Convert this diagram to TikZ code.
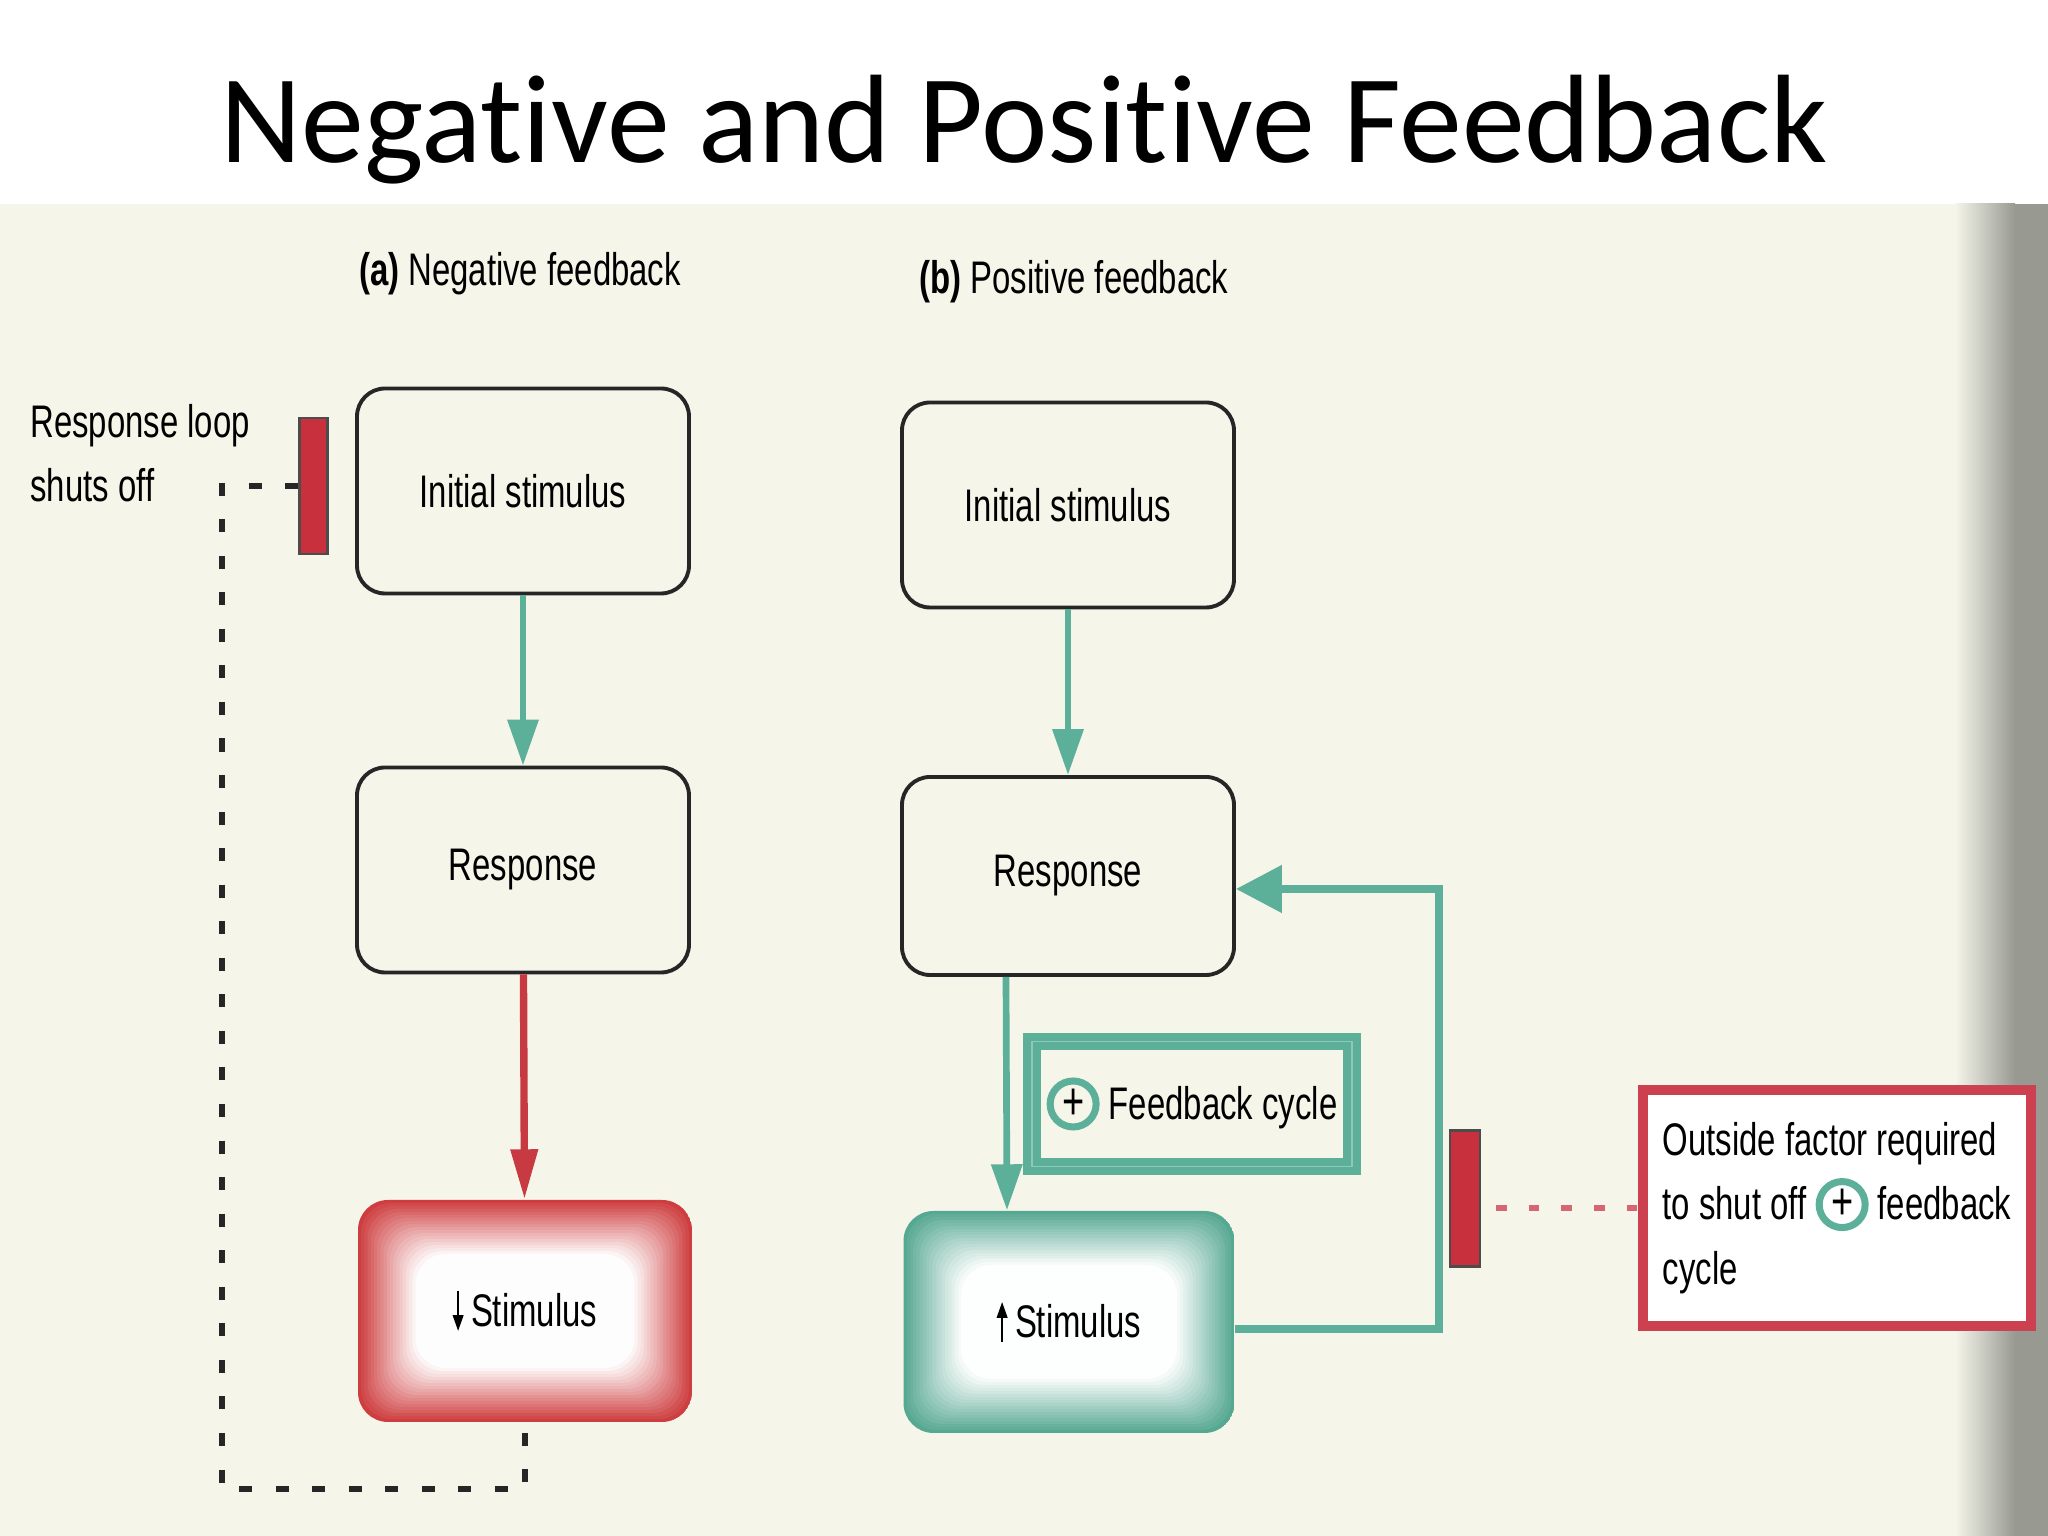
\documentclass[tikz,border=0pt]{standalone}
\usepackage{fontspec}
\setmainfont{Liberation Sans}
\newfontfamily\titlefont[Ligatures=NoCommon]{Carlito}
\newfontfamily\diagfont[FakeStretch=0.72]{Liberation Sans}
\usetikzlibrary{arrows.meta}
\definecolor{paper}{RGB}{245,245,234}
\definecolor{foldgray}{RGB}{152,154,146}
\definecolor{fbteal}{RGB}{92,176,154}
\definecolor{glowteal}{RGB}{86,168,146}
\definecolor{glowred}{RGB}{206,62,64}
\definecolor{barred}{RGB}{200,48,62}
\definecolor{outred}{RGB}{204,64,80}
\definecolor{arrred}{RGB}{200,58,66}
\newcommand{\dfont}{\diagfont\fontsize{13}{18.3}\selectfont}
\newcommand{\plusring}{\tikz[baseline=(pr.base)]\node[circle,draw=fbteal,line width=2pt,inner sep=0pt,minimum size=0.46cm,font=\fontsize{15}{15}\selectfont] (pr) {+};}
\newcommand{\uparr}{\tikz[baseline=0pt]\draw[line width=0.6pt,-{Triangle[length=4.5pt,width=3pt]}] (0,-0.04) -- (0,0.36);}
\newcommand{\dnarr}{\tikz[baseline=0pt]\draw[line width=0.6pt,-{Triangle[length=4.5pt,width=3pt]}] (0,0.36) -- (0,-0.04);}
\tikzset{
  box/.style={draw=black!85, line width=1.1pt, rounded corners=0.28cm, minimum width=3.32cm, minimum height=2.05cm, font=\dfont},
  glowbox/.style={rounded corners=0.3cm, minimum width=3.34cm, minimum height=2.22cm, font=\dfont,
    path picture={\foreach \k [evaluate=\k as \p using int(100-5.5*\k)] in {0,...,18}
      \fill[#1!\p!white, rounded corners=0.3cm] ([shift={(0.032*\k,0.03*\k)}]path picture bounding box.south west) rectangle ([shift={(-0.032*\k,-0.03*\k)}]path picture bounding box.north east);}},
  bar/.style={fill=barred, draw=black!70, line width=0.6pt, minimum width=0.28cm, minimum height=1.36cm, inner sep=0pt},
  tealarrow/.style={draw=fbteal, line width=1.9pt, -{Triangle[length=0.46cm,width=0.3cm]}},
  redarrow/.style={draw=arrred, line width=2.1pt, -{Triangle[length=0.5cm,width=0.26cm]}},
  loopline/.style={draw=fbteal, line width=2.3pt, -{Triangle[length=0.46cm,width=0.46cm]}},
  shutdash/.style={draw=black!85, line width=1.8pt, dash pattern=on 3.7pt off 6.7pt},
  outdash/.style={draw=outred!80, line width=1.8pt, dash pattern=on 3pt off 6.3pt}
}
\begin{document}
\begin{tikzpicture}
  \useasboundingbox (0,0) rectangle (20.48,15.36);
  % page and photo
  \fill[white] (0,0) rectangle (20.48,15.36);
  \fill[paper] (0,0) rectangle (20.48,13.32);
  \shade[left color=paper, right color=foldgray] (19.55,0) rectangle (20.15,13.32);
  \fill[foldgray] (20.15,0) rectangle (20.48,13.32);

  \node[font=\titlefont\fontsize{35.8}{40}\selectfont, anchor=base] (title) at (10.24,13.73) {Negative and Positive Feedback};

  % (a) negative feedback
  \node[font=\dfont] (headA) at (5.2,12.62) {{\bfseries (a)} Negative feedback};
  \node[box] (initA) at (5.23,10.45) {Initial stimulus};
  \node[box] (respA) at (5.23,6.66) {Response};
  \node[glowbox=glowred] (stimA) at (5.25,2.25) {\dnarr\,Stimulus};
  \node[bar] (barA) at (3.135,10.50) {};
  \node[font=\dfont, align=left, anchor=north west] (shutA) at (0.18,11.44) {Response loop\\shuts off};
  \coordinate (loopA) at (2.22,0.47);
  \draw[tealarrow] (initA) -- (respA);
  \draw[redarrow] (respA) -- (stimA);
  \draw[shutdash] (barA.west) -| (loopA) -| (stimA.south);

  % (b) positive feedback
  \node[font=\dfont] (headB) at (10.74,12.54) {{\bfseries (b)} Positive feedback};
  \node[box] (initB) at (10.68,10.31) {Initial stimulus};
  \node[box, minimum height=1.98cm] (respB) at (10.68,6.60) {Response};
  \node[glowbox=glowteal, minimum width=3.31cm] (stimB) at (10.69,2.14) {\uparr\,Stimulus};
  \node[draw=fbteal, line width=2.2pt, double=fbteal!70, double distance=0.5pt, minimum width=3.2cm, minimum height=1.25cm, font=\dfont] (cycleB) at (11.92,4.32) {\plusring\ Feedback cycle};
  \coordinate (loopB) at (14.39,0);
  \draw[tealarrow] (initB) -- (respB);
  \draw[tealarrow] ([xshift=-0.62cm]respB.south) -- ([xshift=-0.62cm]stimB.north);
  \draw[loopline] ([yshift=-0.07cm]stimB.east) -- ([yshift=-0.07cm]stimB.east -| loopB) |- ([yshift=-0.13cm]respB.east);

  % outside factor
  \node[bar, minimum width=0.3cm] (barB) at (14.65,3.375) {};
  \node[draw=outred, line width=2.6pt, fill=white, inner xsep=0.18cm, minimum width=3.88cm, minimum height=2.36cm, align=left, font=\dfont] (outB) at (18.37,3.28) {Outside factor required\\to shut off \plusring\ feedback\\cycle};
  \draw[outdash, shorten <=0.15cm] (barB.east |- outB) -- (outB.west);
\end{tikzpicture}
\end{document}
